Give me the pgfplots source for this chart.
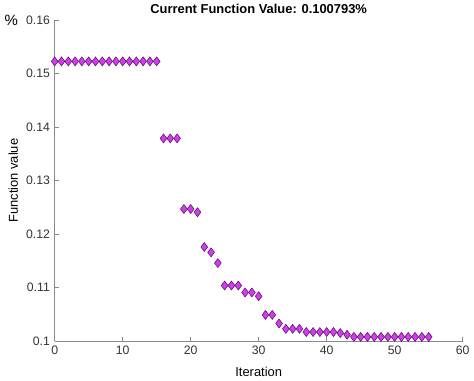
\documentclass[border=0pt]{standalone}
\usepackage{fontspec}
\setmainfont{Liberation Sans}
\usepackage{pgfplots}
\pgfplotsset{compat=1.18}
\definecolor{mk}{HTML}{D23CEA}
\definecolor{mkedge}{HTML}{5A1070}
\definecolor{axgray}{HTML}{8A8A8A}
\definecolor{txtgray}{HTML}{333333}
\begin{document}
\begin{tikzpicture}
\begin{axis}[
  scale only axis,
  width=300pt, height=236pt,
  xmin=0, xmax=60, ymin=0.1, ymax=0.16,
  axis lines*=left,
  axis line style={axgray, line width=0.6pt},
  xtick={0,10,...,60},
  ytick={0.1,0.11,...,0.16},
  yticklabel style={/pgf/number format/fixed, /pgf/number format/precision=2},
  tick style={axgray, line width=0.5pt},
  tick align=inside,
  major tick length=3pt,
  ticklabel style={font=\fontsize{9}{10}\selectfont, text=txtgray},
  /pgf/number format/assume math mode=true,
  xlabel={Iteration},
  ylabel={Function value},
  label style={font=\fontsize{9.5}{11}\selectfont, text=black},
  xlabel style={yshift=-2pt},
  ylabel style={yshift=-1pt},
  title={\textbf{Current Function Value: 0.100793\%}},
  title style={font=\fontsize{9.5}{11}\selectfont, yshift=-5pt},
  clip=false,
]
\addplot[only marks, mark=diamond*, mark size=3.3pt, mark options={fill=mk, draw=mkedge, line width=0.4pt}] coordinates {
(0,0.1523)(1,0.1523)(2,0.1523)(3,0.1523)(4,0.1523)(5,0.1523)(6,0.1523)(7,0.1523)
(8,0.1523)(9,0.1523)(10,0.1523)(11,0.1523)(12,0.1523)(13,0.1523)(14,0.1523)(15,0.1523)
(16,0.1379)(17,0.1379)(18,0.1379)
(19,0.1247)(20,0.1247)(21,0.1241)
(22,0.1176)(23,0.1166)(24,0.1146)
(25,0.1104)(26,0.1104)(27,0.1104)
(28,0.1091)(29,0.1091)(30,0.1084)
(31,0.1049)(32,0.1049)(33,0.1033)
(34,0.1023)(35,0.1023)(36,0.1023)
(37,0.1017)(38,0.1017)(39,0.1017)(40,0.1017)(41,0.1017)
(42,0.1015)(43,0.1012)
(44,0.100793)(45,0.100793)(46,0.100793)(47,0.100793)(48,0.100793)(49,0.100793)
(50,0.100793)(51,0.100793)(52,0.100793)(53,0.100793)(54,0.100793)(55,0.100793)
};
\node[font=\fontsize{11}{12}\selectfont, anchor=center] at ([xshift=-32pt]rel axis cs:0,1) {\%};
\end{axis}
\end{tikzpicture}
\end{document}
